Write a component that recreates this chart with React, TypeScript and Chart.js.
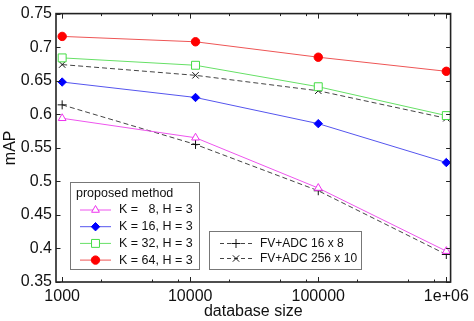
import React, { useEffect, useRef } from "react";
import { Chart, registerables } from "chart.js";
import { drawPoint } from "chart.js/helpers";

Chart.register(...registerables);

// ---- data ----
const databaseSizes = [1000, 11000, 100000, 1000000];
const k8h3 = [0.594, 0.565, 0.49, 0.396];
const k16h3 = [0.648, 0.625, 0.586, 0.528];
const k32h3 = [0.684, 0.673, 0.641, 0.598];
const k64h3 = [0.716, 0.708, 0.685, 0.664];
const fvAdc16x8 = [0.614, 0.555, 0.486, 0.391];
const fvAdc256x10 = [0.674, 0.658, 0.635, 0.594];

const xTickValues = [1000, 2000, 5000, 8000, 10000, 20000, 50000, 80000, 100000, 200000, 500000, 800000, 1000000];
const xMajorValues = [1000, 10000, 100000, 1000000];
const xMajorLabels = ["1000", "10000", "100000", "1e+06"];
const yTickValues = [0.35, 0.4, 0.45, 0.5, 0.55, 0.6, 0.65, 0.7, 0.75];
const yTickLabels = ["0.35", "0.4", "0.45", "0.5", "0.55", "0.6", "0.65", "0.7", "0.75"];

const legendTitle = "proposed method";
const FONT = "'Liberation Sans', Arial, Helvetica, sans-serif";

type Series = {
  label: string;
  values: number[];
  color: string;
  lineColor: string;
  style: string;
  radius: number;
  fill: string;
  dashed: boolean;
  group: number;
};

const series: Series[] = [
  { label: "K =   8, H = 3", values: k8h3, color: "#ee33ee", lineColor: "#ee55ee", style: "triangle", radius: 4.5, fill: "#ffffff", dashed: false, group: 0 },
  { label: "K = 16, H = 3", values: k16h3, color: "#0000ff", lineColor: "#5555ee", style: "rectRot", radius: 4.2, fill: "#0000ff", dashed: false, group: 0 },
  { label: "K = 32, H = 3", values: k32h3, color: "#44dd44", lineColor: "#66e066", style: "rect", radius: 5.6, fill: "#ffffff", dashed: false, group: 0 },
  { label: "K = 64, H = 3", values: k64h3, color: "#ff0000", lineColor: "#ee5555", style: "circle", radius: 4.2, fill: "#ff0000", dashed: false, group: 0 },
  { label: "FV+ADC 16 x 8", values: fvAdc16x8, color: "#111111", lineColor: "#444444", style: "cross", radius: 4.5, fill: "#111111", dashed: true, group: 1 },
  { label: "FV+ADC 256 x 10", values: fvAdc256x10, color: "#111111", lineColor: "#444444", style: "crossRot", radius: 4.5, fill: "#111111", dashed: true, group: 1 },
];

const framePlugin = {
  id: "frameAndLegends",
  afterDraw(chart: any) {
    const ctx = chart.ctx as CanvasRenderingContext2D;
    const { left, right, top, bottom } = chart.chartArea;
    const xs = chart.scales.x;
    const ys = chart.scales.y;
    ctx.save();
    // ticks
    ctx.strokeStyle = "#222";
    ctx.lineWidth = 1;
    xTickValues.forEach((v) => {
      const px = Math.round(xs.getPixelForValue(v)) + 0.5;
      const len = xMajorValues.includes(v) ? 5 : 2.5;
      ctx.beginPath();
      ctx.moveTo(px, bottom);
      ctx.lineTo(px, bottom - len);
      ctx.moveTo(px, top);
      ctx.lineTo(px, top + len);
      ctx.stroke();
    });
    yTickValues.forEach((v) => {
      const py = Math.round(ys.getPixelForValue(v)) + 0.5;
      ctx.beginPath();
      ctx.moveTo(left, py);
      ctx.lineTo(left + 4.5, py);
      ctx.moveTo(right, py);
      ctx.lineTo(right - 4.5, py);
      ctx.stroke();
    });
    // frame
    ctx.lineWidth = 1.6;
    ctx.strokeStyle = "#222";
    ctx.strokeRect(left, top, right - left, bottom - top);

    const drawEntry = (s: Series, x0: number, y: number, lineLen: number) => {
      ctx.save();
      ctx.strokeStyle = s.lineColor;
      ctx.lineWidth = 1;
      ctx.setLineDash(s.dashed ? [4, 3] : []);
      ctx.beginPath();
      ctx.moveTo(x0, y);
      ctx.lineTo(x0 + lineLen, y);
      ctx.stroke();
      ctx.setLineDash([]);
      ctx.fillStyle = s.fill;
      ctx.strokeStyle = s.color;
      drawPoint(ctx, { pointStyle: s.style, radius: s.radius, rotation: 0, borderWidth: 1 } as any, x0 + lineLen / 2, y);
      ctx.restore();
    };

    // legend 1
    const l1x = left + 14;
    const l1y = bottom - 100;
    const l1w = 129;
    const l1h = 87;
    ctx.fillStyle = "#fff";
    ctx.fillRect(l1x, l1y, l1w, l1h);
    ctx.strokeStyle = "#777";
    ctx.lineWidth = 1;
    ctx.strokeRect(l1x + 0.5, l1y + 0.5, l1w, l1h);
    ctx.fillStyle = "#111";
    ctx.font = `12.5px ${FONT}`;
    ctx.textBaseline = "middle";
    ctx.textAlign = "left";
    ctx.fillText(legendTitle, l1x + 6, l1y + 11.5);
    series.filter((s) => s.group === 0).forEach((s, i) => {
      const y = l1y + 28 + i * 16.7;
      drawEntry(s, l1x + 10, y, 31);
      ctx.fillStyle = "#111";
      ctx.font = `12.5px ${FONT}`;
      ctx.fillText(s.label, l1x + 49, y);
    });

    // legend 2
    const l2x = left + 153;
    const l2y = bottom - 51;
    const l2w = 152;
    const l2h = 38;
    ctx.fillStyle = "#fff";
    ctx.fillRect(l2x, l2y, l2w, l2h);
    ctx.strokeStyle = "#777";
    ctx.strokeRect(l2x + 0.5, l2y + 0.5, l2w, l2h);
    series.filter((s) => s.group === 1).forEach((s, i) => {
      const y = l2y + 12.5 + i * 15;
      drawEntry(s, l2x + 11, y, 32);
      ctx.fillStyle = "#111";
      ctx.font = `12px ${FONT}`;
      ctx.textBaseline = "middle";
      ctx.fillText(s.label, l2x + 51, y);
    });
    ctx.restore();
  },
};

export default function App() {
  const ref = useRef<HTMLCanvasElement | null>(null);
  useEffect(() => {
    if (!ref.current) return;
    const chart = new Chart(ref.current, {
      type: "line",
      data: {
        datasets: series.map((s) => ({
          label: s.label,
          data: databaseSizes.map((x, i) => ({ x, y: s.values[i] })),
          borderColor: s.lineColor,
          borderWidth: 1,
          borderDash: s.dashed ? [5, 3] : [],
          pointStyle: s.style as any,
          pointRadius: s.radius,
          pointBorderColor: s.color,
          pointBackgroundColor: s.fill,
          pointBorderWidth: 1,
          fill: false,
          tension: 0,
        })),
      },
      options: {
        responsive: false,
        animation: false,
        layout: { autoPadding: false, padding: { left: 0, top: 10, right: 20, bottom: 0 } },
        plugins: { legend: { display: false }, tooltip: { enabled: false } },
        scales: {
          x: {
            type: "logarithmic",
            min: 895,
            max: 1080000,
            grid: { display: false, drawTicks: false },
            border: { display: false },
            afterBuildTicks: (scale: any) => {
              scale.ticks = xMajorValues.map((v) => ({ value: v }));
            },
            afterFit: (scale: any) => {
              scale.height = 39;
            },
            ticks: {
              autoSkip: false,
              maxRotation: 0,
              padding: 5,
              color: "#111",
              font: { family: FONT, size: 16 },
              callback: (v: any) => {
                const i = xMajorValues.indexOf(Number(v));
                return i >= 0 ? xMajorLabels[i] : "";
              },
            },
            title: {
              display: true,
              text: "database size",
              color: "#111",
              font: { family: FONT, size: 16 },
              padding: { top: 0, bottom: 0 },
            },
          },
          y: {
            type: "linear",
            min: 0.35,
            max: 0.75,
            grid: { display: false, drawTicks: false },
            border: { display: false },
            afterBuildTicks: (scale: any) => {
              scale.ticks = yTickValues.map((v) => ({ value: v }));
            },
            afterFit: (scale: any) => {
              scale.width = 56;
            },
            ticks: {
              padding: 4,
              color: "#111",
              font: { family: FONT, size: 16 },
              callback: (v: any) => {
                const i = yTickValues.findIndex((t) => Math.abs(t - Number(v)) < 1e-6);
                return i >= 0 ? yTickLabels[i] : "";
              },
            },
            title: {
              display: true,
              text: "mAP",
              color: "#111",
              font: { family: FONT, size: 16 },
              padding: { top: 1, bottom: 0 },
            },
          },
        },
      },
      plugins: [framePlugin],
    });
    return () => chart.destroy();
  }, []);
  return (
    <div style={{ position: "absolute", left: 0, top: 0, width: 474, height: 321, background: "#fff" }}>
      <canvas ref={ref} width={474} height={321} />
    </div>
  );
}
